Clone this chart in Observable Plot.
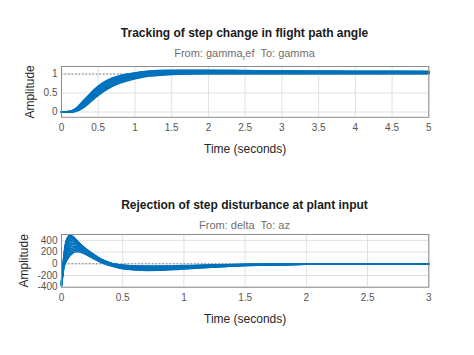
<!DOCTYPE html>
<html><head><meta charset="utf-8">
<script src="https://cdn.jsdelivr.net/npm/d3@7"></script>
<script src="https://cdn.jsdelivr.net/npm/@observablehq/plot@0.6"></script>
<style>
body{margin:0;background:#fff;}
#root{position:relative;width:474px;height:355px;font-family:"Liberation Sans",Arial,sans-serif;overflow:hidden;}
.t{position:absolute;left:61px;width:367px;text-align:center;white-space:nowrap;line-height:14px;}
.title{font-weight:bold;font-size:12px;color:#1a1a1a;}
.sub{font-size:11px;color:#707070;}
.sub sub{font-size:8px;vertical-align:-3px;line-height:0;}
.plot{position:absolute;left:0;}
</style></head><body>
<div id="root">
  <div class="plot" id="p1" style="top:0px"></div>
  <div class="plot" id="p2" style="top:180px"></div>
  <div class="t title" style="top:26px">Tracking of step change in flight path angle</div>
  <div class="t sub" style="top:46px">From: gamma<sub>r</sub>ef&nbsp; To: gamma</div>
  <div class="t title" style="top:198px">Rejection of step disturbance at plant input</div>
  <div class="t sub" style="top:218px">From: delta&nbsp; To: az</div>
</div>
<script>
// ---- Tracking of step change (top) ----
const trackTime = [0,0.1,0.15,0.2,0.3,0.4,0.5,0.6,0.7,0.8,0.9,1.0,1.1,1.2,1.4,1.6,2,2.5,3,3.5,4,4.5,5];
const trackResp1 = [0,0.01,0.04,0.10,0.30,0.50,0.68,0.81,0.90,0.96,1.00,1.03,1.06,1.08,1.10,1.10,1.10,1.09,1.08,1.08,1.07,1.07,1.07];
const trackResp2 = [0,0.01,0.03,0.08,0.27,0.47,0.64,0.77,0.87,0.94,0.99,1.02,1.05,1.07,1.08,1.09,1.09,1.08,1.08,1.07,1.07,1.07,1.06];
const trackResp3 = [0,0.01,0.03,0.07,0.24,0.43,0.60,0.74,0.84,0.91,0.96,1.00,1.03,1.05,1.07,1.08,1.08,1.07,1.07,1.06,1.06,1.06,1.06];
const trackResp4 = [0,0,0.02,0.06,0.21,0.40,0.57,0.71,0.81,0.88,0.93,0.97,1.00,1.03,1.05,1.06,1.06,1.06,1.05,1.05,1.05,1.05,1.05];
const trackResp5 = [0,0,0.02,0.05,0.19,0.37,0.53,0.67,0.77,0.85,0.90,0.94,0.97,1.00,1.03,1.04,1.05,1.05,1.04,1.04,1.04,1.04,1.04];
const trackResp6 = [0,0,0.01,0.04,0.16,0.33,0.50,0.64,0.74,0.82,0.87,0.91,0.95,0.98,1.01,1.03,1.04,1.03,1.03,1.03,1.03,1.03,1.03];
const trackResp7 = [0,0,0.01,0.03,0.14,0.30,0.47,0.61,0.71,0.79,0.85,0.89,0.93,0.96,0.99,1.01,1.02,1.02,1.02,1.02,1.02,1.02,1.02];
const trackResp8 = [0,0,0,0.02,0.12,0.28,0.44,0.58,0.69,0.77,0.83,0.88,0.92,0.95,0.98,1.00,1.01,1.01,1.01,1.01,1.01,1.01,1.01];
const trackRef = [1];
const trackXTicks = [0,0.5,1,1.5,2,2.5,3,3.5,4,4.5,5];
const trackYTicks = [0,0.5,1];

// ---- Rejection of step disturbance (bottom) ----
const distTime = [0,0.01,0.02,0.03,0.05,0.07,0.09,0.12,0.15,0.2,0.25,0.3,0.35,0.4,0.5,0.6,0.7,0.8,1.0,1.2,1.5,2.0,2.5,3.0];
const distResp1  = [-300,-60,150,320,450,490,470,410,340,240,160,90,40,5,-25,-35,-40,-40,-32,-22,-10,-3,0,0];
const distResp2  = [-310,-75,125,290,425,470,458,405,340,245,165,95,42,7,-28,-40,-45,-45,-36,-25,-12,-3,0,0];
const distResp3  = [-320,-90,100,260,400,450,445,400,340,250,170,100,45,10,-30,-45,-50,-50,-40,-28,-13,-4,-1,0];
const distResp4  = [-330,-100,80,230,370,425,425,390,335,250,172,102,47,10,-32,-50,-55,-55,-45,-32,-15,-4,-1,0];
const distResp5  = [-340,-110,60,200,340,400,405,380,330,250,175,105,50,10,-35,-55,-60,-60,-50,-35,-17,-5,-1,0];
const distResp6  = [-345,-120,45,175,310,370,380,362,320,245,172,105,50,9,-40,-60,-66,-66,-55,-38,-18,-5,-1,0];
const distResp7  = [-350,-130,30,150,280,340,355,345,310,240,170,105,50,8,-45,-65,-72,-72,-60,-42,-20,-6,-1,0];
const distResp8  = [-355,-140,15,125,250,310,328,322,295,230,165,100,45,4,-50,-72,-78,-78,-65,-46,-22,-6,-1,0];
const distResp9  = [-360,-150,0,100,220,280,300,300,280,220,160,95,40,0,-55,-78,-85,-85,-70,-50,-24,-7,-2,0];
const distResp10 = [-365,-160,-15,75,185,245,270,278,262,210,150,88,32,-8,-62,-85,-92,-92,-75,-53,-25,-7,-2,0];
const distResp11 = [-370,-170,-30,50,150,210,240,255,245,200,140,80,25,-15,-70,-92,-100,-98,-80,-56,-27,-8,-2,0];
const distResp12 = [-375,-185,-45,25,115,175,210,230,222,180,120,62,12,-25,-78,-98,-106,-104,-84,-59,-28,-8,-2,0];
const distResp13 = [-380,-200,-60,0,80,140,180,205,200,160,100,45,0,-35,-85,-105,-112,-110,-88,-62,-30,-9,-2,0];
const distRef = [0];
const distXTicks = [0,0.5,1,1.5,2,2.5,3];
const distYTicks = [-400,-200,0,200,400];

function toRows(time, series) {
  return series.flatMap((s, i) => s.map((v, j) => ({t: time[j], v, id: i})));
}

const font = {fontFamily: "Liberation Sans, Arial, sans-serif", fontSize: "10px", background: "transparent"};
const blue = "#0072BD";
const gridStyle = {stroke: "#e0e0e0", strokeOpacity: 1};

function panel({time, series, ref, xTicks, yTicks, xDomain, yDomain, height, mt, mb, yLabelOffset, sw}) {
  return Plot.plot({
    width: 474, height,
    marginLeft: 61, marginRight: 45.7, marginTop: mt, marginBottom: mb,
    style: font,
    x: {domain: xDomain},
    y: {domain: yDomain},
    marks: [
      Plot.gridX(xTicks, gridStyle),
      Plot.gridY(yTicks, gridStyle),
      Plot.ruleY(ref, {stroke: "#808080", strokeDasharray: "1.5,2", strokeWidth: 1}),
      Plot.line(toRows(time, series), {x: "t", y: "v", z: "id", stroke: blue, strokeWidth: sw, curve: "monotone-x"}),
      Plot.frame({stroke: "#8c8c8c"}),
      Plot.axisX(xTicks, {tickSize: 0, tickPadding: 7, tickFormat: d => String(d), fill: "#555", label: null}),
      Plot.axisY(yTicks, {tickSize: 0, tickPadding: 4, tickFormat: d => String(d), fill: "#555", label: null}),
      Plot.axisX([], {label: "Time (seconds)", labelAnchor: "center", labelArrow: "none", labelOffset: 36, fontSize: 12, fill: "#262626"}),
      Plot.axisY([], {label: "Amplitude", labelAnchor: "center", labelArrow: "none", labelOffset: yLabelOffset, fontSize: 12, fill: "#262626"})
    ]
  });
}

document.getElementById("p1").append(panel({
  time: trackTime,
  series: [trackResp1, trackResp2, trackResp3, trackResp4, trackResp5, trackResp6, trackResp7, trackResp8],
  ref: trackRef, xTicks: trackXTicks, yTicks: trackYTicks,
  xDomain: [0, 5], yDomain: [-0.14, 1.2],
  height: 160, mt: 66, mb: 43.2, yLabelOffset: 36, sw: 1.8
}));

document.getElementById("p2").append(panel({
  time: distTime,
  series: [distResp1, distResp2, distResp3, distResp4, distResp5, distResp6, distResp7,
           distResp8, distResp9, distResp10, distResp11, distResp12, distResp13],
  ref: distRef, xTicks: distXTicks, yTicks: distYTicks,
  xDomain: [0, 3], yDomain: [-400, 500],
  height: 175, mt: 54, mb: 68.3, yLabelOffset: 42, sw: 1.6
}));
</script>
</body></html>
